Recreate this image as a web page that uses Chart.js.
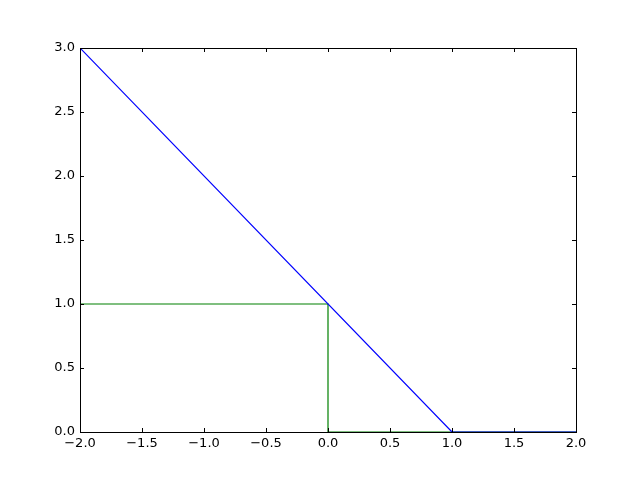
<!DOCTYPE html>
<html>
<head>
<meta charset="utf-8">
<script src="https://cdn.jsdelivr.net/npm/chart.js@4"></script>
<style>
  html, body { margin: 0; padding: 0; background: #fff; }
  #wrap { width: 640px; height: 480px; }
</style>
</head>
<body>
<div id="wrap"><canvas id="chart"></canvas></div>
<script>
// hinge loss (blue) and 0-1 step loss (green)
const hingeX = [-2, 1, 2];
const hingeY = [3, 0, 0];
const stepX = [-2, 0, 0, 2];
const stepY = [1, 1, 0, 0];

const xTicks = [-2, -1.5, -1, -0.5, 0, 0.5, 1, 1.5, 2];
const yTicks = [0, 0.5, 1, 1.5, 2, 2.5, 3];

const toPoints = (xs, ys) => xs.map((x, i) => ({x: x, y: ys[i]}));
const fmt = v => Number(v).toFixed(1).replace('-', '\u2212');

// matplotlib style frame with inward ticks on all four sides
const frame = {
  id: 'frame',
  afterDatasetsDraw(chart) {
    const {ctx, chartArea: a, scales} = chart;
    const len = 4;
    ctx.save();
    ctx.strokeStyle = '#000';
    ctx.lineWidth = 1;
    ctx.beginPath();
    xTicks.forEach(v => {
      const px = Math.round(scales.x.getPixelForValue(v)) + 0.5;
      ctx.moveTo(px, a.bottom); ctx.lineTo(px, a.bottom - len);
      ctx.moveTo(px, a.top); ctx.lineTo(px, a.top + len);
    });
    yTicks.forEach(v => {
      const py = Math.round(scales.y.getPixelForValue(v)) + 0.5;
      ctx.moveTo(a.left, py); ctx.lineTo(a.left + len, py);
      ctx.moveTo(a.right, py); ctx.lineTo(a.right - len, py);
    });
    ctx.stroke();
    ctx.strokeRect(Math.round(a.left) + 0.5, Math.round(a.top) + 0.5,
      Math.round(a.right - a.left), Math.round(a.bottom - a.top));
    ctx.restore();
  }
};

new Chart(document.getElementById('chart'), {
  type: 'scatter',
  data: {
    datasets: [
      {
        data: toPoints(hingeX, hingeY),
        showLine: true,
        borderColor: '#0000ff',
        borderWidth: 1.2,
        pointRadius: 0,
        tension: 0
      },
      {
        data: toPoints(stepX, stepY),
        showLine: true,
        borderColor: '#008000',
        borderWidth: 1.2,
        pointRadius: 0,
        tension: 0
      }
    ]
  },
  options: {
    responsive: true,
    maintainAspectRatio: false,
    animation: false,
    layout: {padding: {top: 48, right: 64, left: 0, bottom: 0}},
    plugins: {legend: {display: false}, tooltip: {enabled: false}},
    scales: {
      x: {
        type: 'linear',
        min: -2, max: 2,
        grid: {display: false, drawTicks: false},
        border: {display: false},
        afterBuildTicks: s => { s.ticks = xTicks.map(v => ({value: v})); },
        afterFit: s => { s.height = 48; },
        ticks: {
          color: '#000',
          padding: 4,
          maxRotation: 0,
          font: {family: 'DejaVu Sans', size: 13},
          callback: fmt
        }
      },
      y: {
        type: 'linear',
        min: 0, max: 3,
        grid: {display: false, drawTicks: false},
        border: {display: false},
        afterBuildTicks: s => { s.ticks = yTicks.map(v => ({value: v})); },
        afterFit: s => { s.width = 80; },
        ticks: {
          color: '#000',
          padding: 5,
          font: {family: 'DejaVu Sans', size: 13},
          callback: fmt
        }
      }
    }
  },
  plugins: [frame]
});
</script>
</body>
</html>
